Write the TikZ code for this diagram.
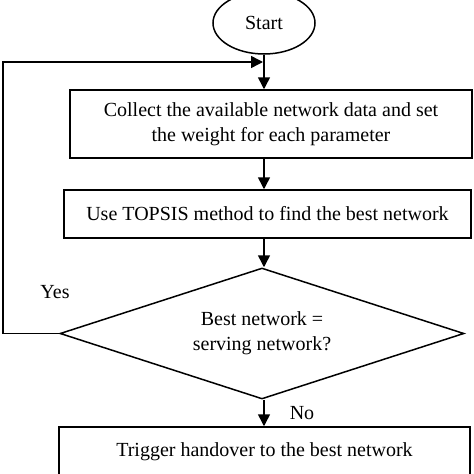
\documentclass[tikz,border=0pt]{standalone}
\usepackage{fontspec}
\setmainfont{Liberation Serif}
\usetikzlibrary{shapes.geometric,arrows.meta}
\begin{document}
\begin{tikzpicture}[x=1pt,y=1pt,
  every node/.style={font=\fontsize{20}{25}\selectfont},
  boxnode/.style={draw,line width=1.5pt,rectangle,inner sep=0pt,align=center},
  conn/.style={line width=1.5pt,-{Triangle[length=12pt,width=12pt]}},
  lbl/.style={inner sep=0pt}]
\useasboundingbox (0,0) rectangle (474,-474);
\clip (0,0) rectangle (474,-474);
\node[draw,ellipse,line width=1.5pt,minimum width=102pt,minimum height=62pt,inner sep=0pt] (start) at (264,-23) {Start};
\node[boxnode,minimum width=402pt,minimum height=68pt] (b1) at (271,-124) {Collect the available network data and set\\the weight for each parameter};
\node[boxnode,minimum width=407pt,minimum height=48pt] (b2) at (267.5,-214) {Use TOPSIS method to find the best network};
\node[draw,diamond,line width=1.5pt,aspect=3.08,minimum width=404pt,minimum height=131pt,inner sep=0pt,align=center] (dia) at (262,-333.5) {Best network =\\serving network?};
\node[boxnode,minimum width=411pt,minimum height=50pt] (b3) at (264.5,-452) {Trigger handover to the best network};
\coordinate (loopL) at (3,-62);
\coordinate (join) at (263,-62);
\node[lbl] (yes) at (55,-292) {Yes};
\node[lbl] (no) at (302,-413) {No};
\draw[conn] (start.south) -- (start.south |- b1.north);
\draw[conn] (start.south |- b1.south) -- (start.south |- b2.north);
\draw[conn] (start.south |- b2.south) -- (start.south |- dia.north);
\draw[conn] (start.south |- dia.south) -- (start.south |- b3.north);
\draw[conn] (dia.west) -| (loopL) -- (join);
\end{tikzpicture}
\end{document}
